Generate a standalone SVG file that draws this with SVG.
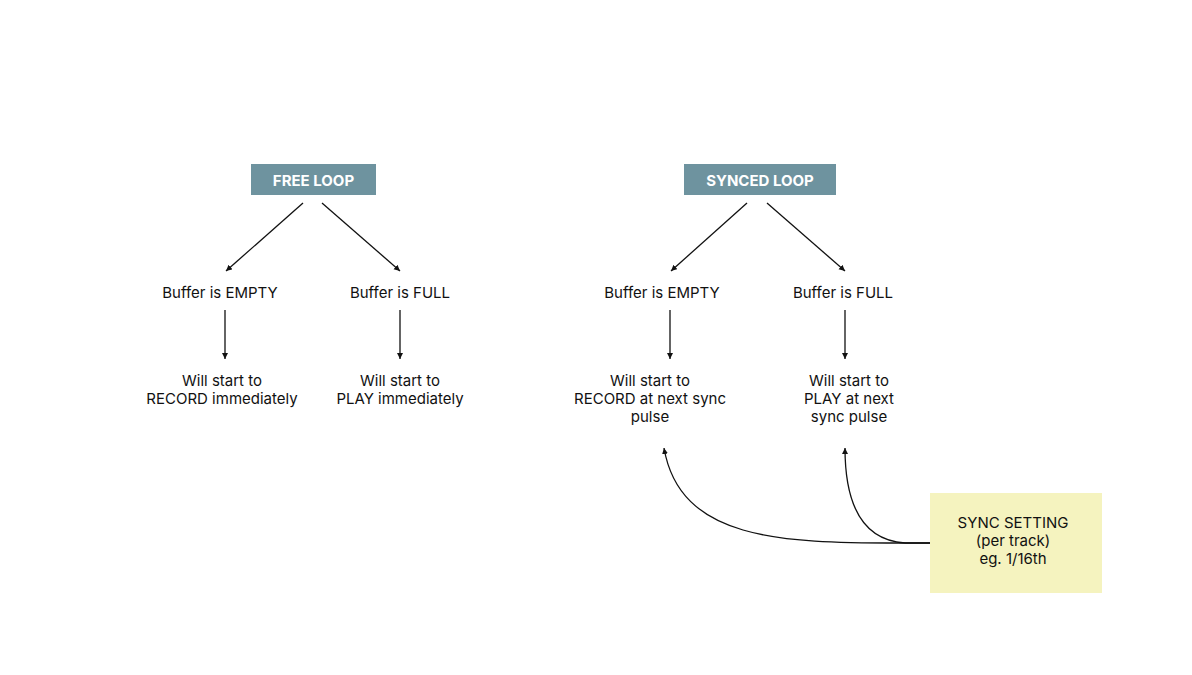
<svg xmlns="http://www.w3.org/2000/svg" width="1192" height="675" viewBox="0 0 1192 675">
<style>
.t{font-family:Inter,"Liberation Sans",sans-serif;font-size:15px;fill:#111;text-anchor:middle}
.h{font-family:Inter,"Liberation Sans",sans-serif;font-size:15px;font-weight:bold;fill:#fff;text-anchor:middle}
.c{stroke:#111;stroke-width:1.3;fill:none;marker-end:url(#a)}
</style>
<defs><marker id="a" markerWidth="8" markerHeight="8" refX="6" refY="3" orient="auto" markerUnits="userSpaceOnUse"><path d="M0,0 L6,3 L0,6 z" fill="#111"/></marker></defs>
<rect width="1192" height="675" fill="#fff"/>
<g id="free"><rect x="251" y="164" width="125" height="31" fill="#6e939f"/><text class="h" x="313.5" y="186">FREE LOOP</text></g>
<g id="synced"><rect x="684" y="164" width="152" height="31" fill="#6e939f"/><text class="h" x="760" y="186">SYNCED LOOP</text></g>
<g id="fe"><text class="t" x="220" y="298">Buffer is EMPTY</text></g>
<g id="ff"><text class="t" x="400" y="298">Buffer is FULL</text></g>
<g id="se"><text class="t" x="662" y="298">Buffer is EMPTY</text></g>
<g id="sf"><text class="t" x="843" y="298">Buffer is FULL</text></g>
<g id="fr"><text class="t" x="222" y="386">Will start to</text><text class="t" x="222" y="404">RECORD immediately</text></g>
<g id="fp"><text class="t" x="400" y="386">Will start to</text><text class="t" x="400" y="404">PLAY immediately</text></g>
<g id="sr"><text class="t" x="650" y="386">Will start to</text><text class="t" x="650" y="404">RECORD at next sync</text><text class="t" x="650" y="422">pulse</text></g>
<g id="sp"><text class="t" x="849" y="386">Will start to</text><text class="t" x="849" y="404">PLAY at next</text><text class="t" x="849" y="422">sync pulse</text></g>
<g id="sync"><rect x="930" y="493" width="172" height="100" fill="#f5f3bf"/><text class="t" x="1013" y="528">SYNC SETTING</text><text class="t" x="1013" y="546">(per track)</text><text class="t" x="1013" y="564">eg. 1/16th</text></g>
<g id="connectors">
<path class="c" d="M303,203 L226,271"/>
<path class="c" d="M322,203 L400,271"/>
<path class="c" d="M747,203 L671,271"/>
<path class="c" d="M767,203 L845,271"/>
<path class="c" d="M225,310 L225,359"/>
<path class="c" d="M400,310 L400,359"/>
<path class="c" d="M670,310 L670,359"/>
<path class="c" d="M845,310 L845,359"/>
<path class="c" d="M930,543 L900,543 C780,543 680,540 664,448"/>
<path class="c" d="M930,543 L905,543 C860,540 845,500 845,448"/>
</g>
</svg>
